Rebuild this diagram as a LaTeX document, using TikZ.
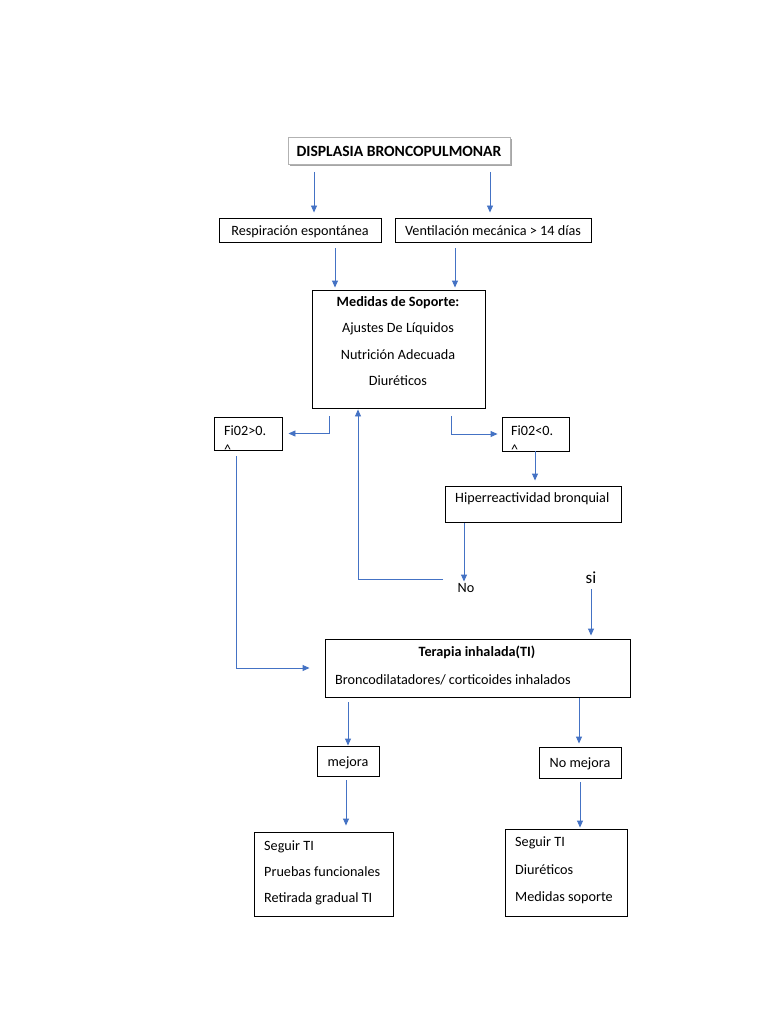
\documentclass[tikz,border=0pt]{standalone}
\usepackage{fontspec}
\setmainfont{Carlito}
\usepackage{tikz}
\usetikzlibrary{arrows.meta,shadows}

\definecolor{arrowblue}{RGB}{68,114,196}

\begin{document}
\begin{tikzpicture}[x=1pt,y=-1pt,>={Triangle[length=7pt,width=6pt]},
    every node/.style={font=\fontsize{14.2}{16}\selectfont},
    box/.style={draw,line width=0.9pt,inner sep=0pt,text height=13.5pt,text depth=3pt},
    titlebox/.style={draw=gray!60,line width=0.6pt,fill=white,inner sep=0pt,
      drop shadow={shadow xshift=2pt,shadow yshift=-2pt,fill=gray!70,opacity=1}},
    txt/.style={inner sep=0pt,text height=9.5pt,text depth=3pt,yshift=-2pt},
    arr/.style={->,draw=arrowblue,line width=0.9pt},
    every edge/.style={arr}]
      \useasboundingbox (0,0) rectangle (768,1024);

      \node[titlebox,minimum width=222pt,minimum height=27pt,font=\fontsize{15.6}{18}\selectfont] (title) at (399,151) {\textbf{DISPLASIA BRONCOPULMONAR}};

      \node[box,minimum width=162pt,minimum height=24pt] (resp) at (300,230) {Respiración espontánea};
      \node[box,minimum width=196pt,minimum height=24pt] (vent) at (493,230) {Ventilación mecánica > 14 días};

      \node[box,minimum width=173pt,minimum height=118pt] (med) at (398.5,349) {};
      \node[txt] (med1) at (398,301) {\textbf{Medidas de Soporte:}};
      \node[txt] (med2) at (398,327) {Ajustes De Líquidos};
      \node[txt] (med3) at (398,354) {Nutrición Adecuada};
      \node[txt] (med4) at (398,380) {Diuréticos};

      \node[box,minimum width=68pt,minimum height=33pt] (fiA) at (248,433.5) {};
      \node[txt,anchor=west] (fiA1) at (224,430) {Fi02>0.};
      \node[inner sep=0pt,anchor=base west] (fiA2) at (224,454) {\textasciicircum};

      \node[box,minimum width=67pt,minimum height=34pt] (fiB) at (535.5,434) {};
      \node[txt,anchor=west] (fiB1) at (511,430) {Fi02<0.};
      \node[inner sep=0pt,anchor=base west] (fiB2) at (511,454) {\textasciicircum};

      \node[box,minimum width=176pt,minimum height=36pt] (hiper) at (533,504) {};
      \node[txt,anchor=west] (hiper1) at (455,497) {Hiperreactividad bronquial};

      \node[txt] (no) at (466,587) {No};
      \node[inner sep=0pt,font=\fontsize{17}{19}\selectfont] (si) at (591,578) {si};
      \coordinate (noleft) at (443,579);

      \node[box,minimum width=305pt,minimum height=58pt] (ter) at (477.5,668) {};
      \node[txt] (ter1) at (477,651) {\textbf{Terapia inhalada(TI)}};
      \node[txt,anchor=west] (ter2) at (335,679) {Broncodilatadores/ corticoides inhalados};

      \node[box,minimum width=62pt,minimum height=30pt] (mej) at (348,761) {mejora};
      \node[box,minimum width=82pt,minimum height=31pt] (nomej) at (580,762.5) {No mejora};

      \node[box,minimum width=139pt,minimum height=84pt] (segA) at (323.5,874) {};
      \node[txt,anchor=west] (segA1) at (264,845) {Seguir TI};
      \node[txt,anchor=west] (segA2) at (264,871) {Pruebas funcionales};
      \node[txt,anchor=west] (segA3) at (264,897) {Retirada gradual TI};

      \node[box,minimum width=122pt,minimum height=87pt] (segB) at (566,872.5) {};
      \node[txt,anchor=west] (segB1) at (515,841) {Seguir TI};
      \node[txt,anchor=west] (segB2) at (515,869) {Diuréticos};
      \node[txt,anchor=west] (segB3) at (515,896) {Medidas soporte};

      \path
      (title.south -| 314,0) edge [shorten <=7pt,shorten >=5pt] (resp.north -| 314,0)
      (title.south -| 490,0) edge [shorten <=7pt,shorten >=5pt] (vent.north -| 490,0)

      (resp.south -| 335,0) edge [shorten <=6pt,shorten >=2pt] (med.north -| 335,0)
      (vent.south -| 455,0) edge [shorten <=6pt,shorten >=2pt] (med.north -| 455,0)

      (fiB.south -| 535,0) edge [shorten >=5pt] (hiper.north -| 535,0)
      (hiper.south -| 464,0) edge [shorten <=1pt,shorten >=1pt] (no.north -| 464,0)
      (si.south -| 591,0) edge [shorten <=5pt,shorten >=3pt] (ter.north -| 591,0)

      (ter.south -| 348,0) edge [shorten <=5pt] (mej.north -| 348,0)
      (ter.south -| 579,0) edge [shorten <=1pt,shorten >=3pt] (nomej.north -| 579,0)

      (mej.south -| 346,0) edge [shorten <=4pt,shorten >=6pt] (segA.north -| 346,0)
      (nomej.south -| 580,0) edge [shorten <=4pt,shorten >=1pt] (segB.north -| 580,0)
      ;

      \draw[arr,shorten <=8pt,shorten >=6pt] (med.south -| 329,0) |- (fiA.east);
      \draw[arr,shorten <=8pt,shorten >=4pt] (med.south -| 451,0) |- (fiB.west);
      \draw[arr,shorten >=1pt] (noleft) -| (med.south -| 358,0);
      \draw[arr,shorten <=6pt,shorten >=15pt] (fiA.south -| 236,0) |- (ter.west);
    \end{tikzpicture}
\end{document}
